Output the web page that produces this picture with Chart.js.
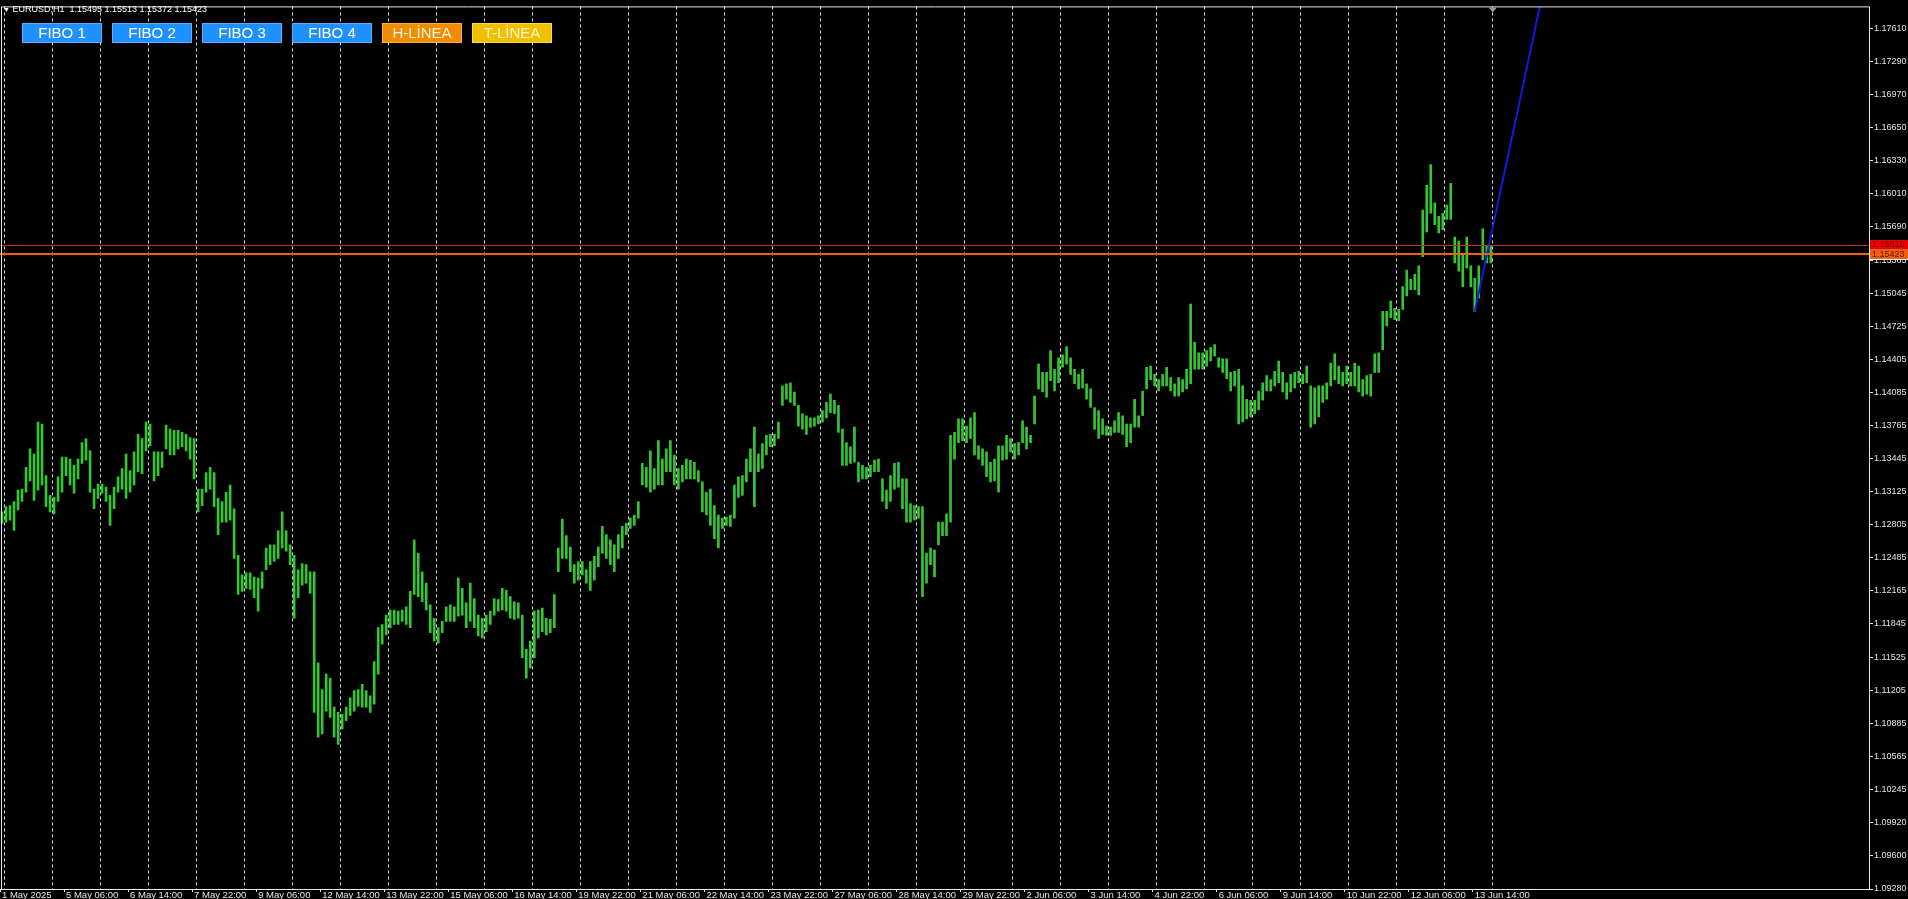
<!DOCTYPE html>
<html><head><meta charset="utf-8">
<script src="https://cdn.jsdelivr.net/npm/chart.js@4.4.1/dist/chart.umd.min.js"></script>
<style>
html,body{margin:0;padding:0;background:#000;overflow:hidden;}
#wrap{position:relative;width:1908px;height:899px;background:#000;}
canvas{position:absolute;left:0;top:0;}
#hdr{position:absolute;left:3px;top:4px;color:#fff;font:9px "Liberation Sans",Arial,sans-serif;white-space:pre;line-height:11px;}
#hdr .tri{font-size:7px;}
.btn{position:absolute;top:23px;height:20px;width:80px;box-sizing:border-box;font:15px "Liberation Sans",Arial,sans-serif;text-align:center;line-height:18px;white-space:nowrap;}
.fibo{background:#1e90ff;border:1px solid #5aaeff;color:#fff;}
.hl{background:#f08c00;border:1px solid #ffb040;color:#fff4e0;}
.tl{background:#f0c000;border:1px solid #ffd84a;color:#fff6c8;}
</style></head>
<body><div id="wrap"><canvas id="c" width="1908" height="899"></canvas>
<div id="hdr"><span class="tri">▼</span> EURUSD,H1  1.15495 1.15513 1.15372 1.15423</div>
<div class="btn fibo" style="left:22px">FIBO 1</div>
<div class="btn fibo" style="left:112px">FIBO 2</div>
<div class="btn fibo" style="left:202px">FIBO 3</div>
<div class="btn fibo" style="left:292px">FIBO 4</div>
<div class="btn hl" style="left:382px">H-LİNEA</div>
<div class="btn tl" style="left:472px">T-LİNEA</div>
</div>
<script>
// ---- categories (2-hour slots of EURUSD H1) ----
const FIRST_SLOT = '1 May 22:00';
const TRADING_DAYS = ['2 May','5 May','6 May','7 May','8 May','9 May','12 May','13 May','14 May','15 May','16 May',
 '19 May','20 May','21 May','22 May','23 May','26 May','27 May','28 May','29 May','30 May',
 '2 Jun','3 Jun','4 Jun','5 Jun','6 Jun','9 Jun','10 Jun','11 Jun','12 Jun','13 Jun',
 '16 Jun','17 Jun','18 Jun','19 Jun','20 Jun','23 Jun','24 Jun','25 Jun'];
const HOURS = ['00:00','02:00','04:00','06:00','08:00','10:00','12:00','14:00','16:00','18:00','20:00','22:00'];
const N_SLOTS = 467;

// ---- x tick labels ----
const TICK_LABELS = ['1 May 2025','5 May 06:00','6 May 14:00','7 May 22:00','9 May 06:00','12 May 14:00',
 '13 May 22:00','15 May 06:00','16 May 14:00','19 May 22:00','21 May 06:00','22 May 14:00','23 May 22:00',
 '27 May 06:00','28 May 14:00','29 May 22:00','2 Jun 06:00','3 Jun 14:00','4 Jun 22:00','6 Jun 06:00',
 '9 Jun 14:00','10 Jun 22:00','12 Jun 06:00','13 Jun 14:00'];

// ---- y tick labels ----
const Y_TICKS = [1.17610,1.17290,1.16970,1.16650,1.16330,1.16010,1.15690,1.15365,1.15045,1.14725,1.14405,
 1.14085,1.13765,1.13445,1.13125,1.12805,1.12485,1.12165,1.11845,1.11525,1.11205,1.10885,1.10565,1.10245,
 1.09920,1.09600,1.09280];
const Y_MIN = 1.09280, Y_MAX = 1.17822;

// ---- price series: high / low per 2-hour slot ----
const HIGH = [
1.1293,1.1298,1.1299,1.1303,1.1314,1.1315,1.1336,1.1354,1.1349,1.1380,
1.1378,1.1328,1.1309,1.1307,1.1327,1.1346,1.1346,1.1344,1.1338,1.1344,
1.1360,1.1364,1.1352,1.1315,1.1320,1.1320,1.1317,1.1309,1.1317,1.1327,
1.1335,1.1349,1.1333,1.1351,1.1368,1.1364,1.1380,1.1378,1.1351,1.1351,
1.1351,1.1377,1.1373,1.1372,1.1372,1.1370,1.1368,1.1365,1.1364,1.1315,
1.1315,1.1331,1.1336,1.1331,1.1306,1.1303,1.1312,1.1319,1.1296,1.1251,
1.1232,1.1234,1.1234,1.1230,1.1229,1.1235,1.1258,1.1261,1.1261,1.1275,
1.1293,1.1275,1.1261,1.1251,1.1237,
1.1243,1.1242,1.1235,1.1235,1.1147,1.1121,1.1136,1.1132,1.1104,1.1099,
1.1097,1.1104,1.1113,1.1120,1.1121,1.1126,1.1120,1.1115,1.1148,1.1181,
1.1184,1.1193,1.1198,1.1198,1.1197,1.1198,1.1201,1.1216,1.1266,1.1253,
1.1235,1.1224,1.1203,1.1190,1.1181,1.1187,1.1201,1.1203,1.1201,1.1229,
1.1219,1.1205,1.1224,1.1209,1.1193,1.1190,1.1193,1.1197,1.1209,1.1208,
1.1219,1.1217,1.1211,1.1206,1.1205,1.1193,1.1160,1.1168,1.1197,1.1198,
1.1200,1.1190,1.1189,1.1213,1.1258,1.1286,1.1270,1.1259,1.1242,1.1245,
1.1245,1.1237,1.1245,1.1250,1.1259,
1.1279,1.1271,1.1266,1.1261,1.1271,1.1279,1.1282,1.1287,1.1290,1.1303,
1.1340,1.1336,1.1352,1.1335,1.1362,1.1344,1.1354,1.1362,1.1348,1.1335,
1.1338,1.1344,1.1343,1.1341,1.1333,1.1322,1.1312,1.1315,1.1299,1.1290,
1.1287,1.1288,1.1290,1.1319,1.1327,1.1328,1.1344,1.1354,1.1375,1.1349,
1.1359,1.1367,1.1368,1.1368,1.1380,1.1415,1.1417,1.1418,1.1409,1.1396,
1.1388,1.1386,1.1384,1.1384,1.1386,1.1391,1.1399,1.1407,1.1401,1.1396,
1.1373,1.1360,1.1356,1.1375,1.1341,1.1338,1.1336,1.1338,1.1343,1.1344,
1.1325,1.1314,1.1328,1.1340,1.1341,
1.1325,1.1325,1.1301,1.1299,1.1298,1.1298,1.1253,1.1258,1.1256,1.1283,
1.1283,1.1291,1.1367,1.1370,1.1383,1.1383,1.1376,1.1384,1.1389,1.1357,
1.1354,1.1351,1.1341,1.1344,1.1357,1.1357,1.1367,1.1364,1.1359,1.1360,
1.1381,1.1375,1.1367,1.1405,1.1436,1.1428,1.1428,1.1449,1.1431,1.1442,
1.1445,1.1453,1.1442,1.1431,1.1426,1.1431,1.1417,1.1412,1.1394,1.1391,
1.1383,1.1376,1.1375,1.1381,1.1389,1.1386,1.1378,1.1378,1.1402,1.1386,
1.1410,1.1433,1.1434,1.1426,1.1421,1.1426,1.1433,1.1423,1.1417,1.1423,
1.1421,1.1431,1.1494,1.1457,1.1447,
1.1447,1.1449,1.1452,1.1455,1.1442,1.1441,1.1441,1.1428,1.1429,1.1431,
1.1415,1.1402,1.1401,1.1401,1.1410,1.1418,1.1425,1.1421,1.1429,1.1439,
1.1428,1.1418,1.1426,1.1428,1.1429,1.1426,1.1434,1.1415,1.1413,1.1415,
1.1415,1.1418,1.1437,1.1446,1.1434,1.1428,1.1434,1.1428,1.1437,1.1434,
1.1421,1.1425,1.1426,1.1446,1.1447,1.1487,1.1487,1.1497,1.1490,1.1489,
1.1511,1.1527,1.1518,1.1523,1.1531,1.1585,1.1609,1.1629,1.1592,1.1579,
1.1582,1.1590,1.1611,1.1559,1.1555,1.1543,1.1559,1.1531,1.1519,1.1531,
1.1567,1.1550,1.1550];
const LOW = [
1.1282,1.1283,1.1285,1.1275,1.1295,1.1303,1.1312,1.1323,1.1304,1.1314,
1.1319,1.1298,1.1293,1.1291,1.1303,1.1312,1.1328,1.1319,1.1311,1.1325,
1.1340,1.1343,1.1312,1.1296,1.1306,1.1311,1.1303,1.1280,1.1296,1.1312,
1.1315,1.1306,1.1312,1.1319,1.1332,1.1330,1.1352,1.1357,1.1323,1.1328,
1.1336,1.1354,1.1348,1.1348,1.1354,1.1356,1.1352,1.1344,1.1325,1.1293,
1.1299,1.1312,1.1315,1.1298,1.1271,1.1283,1.1283,1.1285,1.1248,1.1213,
1.1216,1.1219,1.1218,1.1210,1.1197,1.1219,1.1237,1.1242,1.1245,1.1248,
1.1258,1.1255,1.1242,1.1190,1.1210,
1.1222,1.1224,1.1214,1.1099,1.1075,1.1078,1.1100,1.1094,1.1075,1.1068,
1.1083,1.1091,1.1096,1.1100,1.1105,1.1104,1.1104,1.1099,1.1107,1.1136,
1.1165,1.1174,1.1181,1.1184,1.1184,1.1187,1.1184,1.1181,1.1213,1.1211,
1.1206,1.1198,1.1176,1.1168,1.1166,1.1176,1.1187,1.1187,1.1187,1.1192,
1.1193,1.1181,1.1187,1.1181,1.1173,1.1171,1.1177,1.1184,1.1193,1.1197,
1.1198,1.1197,1.1190,1.1189,1.1190,1.1152,1.1132,1.1142,1.1152,1.1171,
1.1177,1.1174,1.1176,1.1181,1.1235,1.1248,1.1248,1.1235,1.1224,1.1227,
1.1232,1.1224,1.1217,1.1227,1.1240,
1.1253,1.1248,1.1242,1.1235,1.1248,1.1258,1.1271,1.1277,1.1280,1.1287,
1.1319,1.1317,1.1312,1.1315,1.1319,1.1319,1.1332,1.1332,1.1319,1.1315,
1.1322,1.1325,1.1325,1.1325,1.1322,1.1293,1.1290,1.1280,1.1267,1.1258,
1.1277,1.1280,1.1279,1.1287,1.1307,1.1309,1.1322,1.1332,1.1298,1.1332,
1.1335,1.1348,1.1356,1.1357,1.1364,1.1396,1.1402,1.1399,1.1396,1.1376,
1.1373,1.1368,1.1375,1.1376,1.1378,1.1380,1.1384,1.1389,1.1388,1.1370,
1.1338,1.1338,1.1340,1.1341,1.1322,1.1325,1.1325,1.1327,1.1332,1.1332,
1.1303,1.1296,1.1303,1.1315,1.1317,
1.1296,1.1283,1.1283,1.1285,1.1287,1.1211,1.1224,1.1242,1.1230,1.1261,
1.1270,1.1270,1.1283,1.1344,1.1360,1.1362,1.1360,1.1364,1.1348,1.1344,
1.1338,1.1327,1.1322,1.1323,1.1312,1.1343,1.1344,1.1351,1.1344,1.1348,
1.1360,1.1354,1.1360,1.1378,1.1412,1.1409,1.1404,1.1420,1.1410,1.1418,
1.1433,1.1436,1.1426,1.1417,1.1412,1.1413,1.1402,1.1394,1.1373,1.1364,
1.1368,1.1367,1.1367,1.1370,1.1370,1.1368,1.1356,1.1360,1.1375,1.1375,
1.1386,1.1412,1.1421,1.1415,1.1410,1.1415,1.1415,1.1410,1.1405,1.1405,
1.1409,1.1412,1.1417,1.1431,1.1431,
1.1431,1.1434,1.1439,1.1444,1.1433,1.1428,1.1422,1.1410,1.1415,1.1378,
1.1380,1.1383,1.1385,1.1388,1.1392,1.1401,1.1410,1.1410,1.1415,1.1418,
1.1409,1.1402,1.1409,1.1413,1.1418,1.1417,1.1418,1.1375,1.1378,1.1385,
1.1399,1.1402,1.1415,1.1421,1.1417,1.1415,1.1417,1.1415,1.1415,1.1409,
1.1405,1.1407,1.1405,1.1428,1.1428,1.1450,1.1473,1.1481,1.1479,1.1478,
1.1489,1.1502,1.1508,1.1508,1.1503,1.1540,1.1564,1.1582,1.1571,1.1563,
1.1566,1.1576,1.1576,1.1534,1.1526,1.1511,1.1529,1.1511,1.1487,1.1500,
1.1537,1.1534,1.1534];

// ---- drawn objects ----
const ASK_LINE = 1.15516;
const BID_LINE = 1.15423;
const TREND_TIMES = ['13 Jun 14:00','17 Jun 06:00'];
const TREND_PRICES = [1.1487, 1.1850];
const SHIFT_TIME = '16 Jun 00:00';

// build category list
const LABELS = [FIRST_SLOT];
for (const d of TRADING_DAYS) { for (const h of HOURS) { if (LABELS.length < N_SLOTS) LABELS.push(d + ' ' + h); } }
const GRID_LAST = LABELS.indexOf(SHIFT_TIME);

const FONT = 'Liberation Sans';
const TXT = '#e4e4e4';

const overlay = {
  id: 'mt4overlay',
  afterDatasetsDraw(chart) {
    const {ctx, chartArea: a, scales: {x, y}} = chart;
    ctx.save();
    let yy = y.getPixelForValue(ASK_LINE);
    ctx.strokeStyle = 'rgb(200,40,25)'; ctx.lineWidth = 1;
    ctx.beginPath(); ctx.moveTo(a.left, Math.round(yy) + 0.5); ctx.lineTo(a.right, Math.round(yy) + 0.5); ctx.stroke();
    yy = y.getPixelForValue(BID_LINE);
    ctx.strokeStyle = 'rgb(240,95,20)'; ctx.lineWidth = 2;
    ctx.beginPath(); ctx.moveTo(a.left, Math.round(yy)); ctx.lineTo(a.right, Math.round(yy)); ctx.stroke();
    ctx.restore();
  },
  afterDraw(chart) {
    const {ctx, chartArea: a, scales: {x, y}} = chart;
    ctx.save();
    ctx.strokeStyle = '#e8e8e8'; ctx.lineWidth = 1;
    ctx.beginPath();
    ctx.moveTo(1.5, a.bottom + 0.5); ctx.lineTo(1.5, a.top + 0.5); ctx.lineTo(a.right + 0.5, a.top + 0.5);
    ctx.lineTo(a.right + 0.5, a.bottom + 0.5); ctx.lineTo(0, a.bottom + 0.5);
    ctx.stroke();
    const boxes = [[ASK_LINE, 'rgb(235,0,0)', 'rgb(110,0,0)'], [BID_LINE, 'rgb(240,95,20)', 'rgb(90,25,0)']];
    ctx.font = '9px "' + FONT + '"'; ctx.textBaseline = 'middle'; ctx.textAlign = 'left';
    for (const [v, bg, fg] of boxes) {
      const py = y.getPixelForValue(v);
      ctx.fillStyle = bg; ctx.fillRect(a.right + 1, Math.round(py) - 5, 39, 10);
      ctx.fillStyle = fg; ctx.fillText(v.toFixed(5), a.right + 3, py);
    }
    ctx.strokeStyle = '#f0f0f0';
    const pyB = Math.round(y.getPixelForValue(BID_LINE)) + 5.5;
    ctx.beginPath(); ctx.moveTo(a.right, pyB); ctx.lineTo(1908, pyB); ctx.stroke();
    const sw = x.getPixelForValue(1) - x.getPixelForValue(0);
    const sx = x.getPixelForValue(GRID_LAST) - sw / 2;
    ctx.fillStyle = '#9a9a9a';
    ctx.beginPath(); ctx.moveTo(sx - 4, a.top + 1); ctx.lineTo(sx + 4, a.top + 1); ctx.lineTo(sx, a.top + 6); ctx.closePath(); ctx.fill();
    ctx.restore();
  }
};

new Chart(document.getElementById('c'), {
  data: {
    labels: LABELS,
    datasets: [
      { type: 'bar', data: HIGH.map((h, i) => [LOW[i], h]), backgroundColor: 'rgb(52,196,52)',
        borderWidth: 0, barThickness: 2, grouped: false, order: 2 },
      { type: 'line', data: TREND_TIMES.map((t, i) => ({x: t, y: TREND_PRICES[i]})),
        borderColor: 'rgb(20,25,225)', borderWidth: 2, pointRadius: 0, fill: false, order: 1 }
    ]
  },
  options: {
    responsive: false, animation: false, devicePixelRatio: 1,
    layout: { padding: { left: 0, right: 0, top: 2, bottom: 0 } },
    plugins: { legend: { display: false }, tooltip: { enabled: false } },
    scales: {
      x: {
        type: 'category', offset: true,
        grid: {
          offset: true, drawOnChartArea: true, drawTicks: true, tickLength: 3, lineWidth: 1,
          color: c => (c.index !== undefined && c.index % 12 === 1 && c.index <= GRID_LAST) ? 'rgba(255,255,255,0.85)' : 'rgba(0,0,0,0)',
          tickColor: c => (c.index !== undefined && c.index % 16 === 0 && c.index / 16 < TICK_LABELS.length) ? TXT : 'rgba(0,0,0,0)'
        },
        border: { display: false, dash: [3, 3] },
        ticks: {
          autoSkip: false, maxRotation: 0, minRotation: 0, align: 'start', padding: -2, color: TXT,
          font: { family: FONT, size: 9.5 },
          callback: (v, i) => (i % 16 === 0 && i / 16 < TICK_LABELS.length) ? TICK_LABELS[i / 16] : ''
        },
        afterFit: s => { s.height = 10; }
      },
      y: {
        position: 'right', min: Y_MIN, max: Y_MAX,
        grid: { drawOnChartArea: false, drawTicks: true, tickLength: 4, color: TXT },
        border: { display: false },
        afterBuildTicks: s => { s.ticks = Y_TICKS.map(v => ({ value: v })); },
        ticks: { color: TXT, padding: 1, font: { family: FONT, size: 9 }, callback: v => Number(v).toFixed(5) },
        afterFit: s => { s.width = 39; }
      }
    }
  },
  plugins: [overlay]
});
</script>
</body></html>
